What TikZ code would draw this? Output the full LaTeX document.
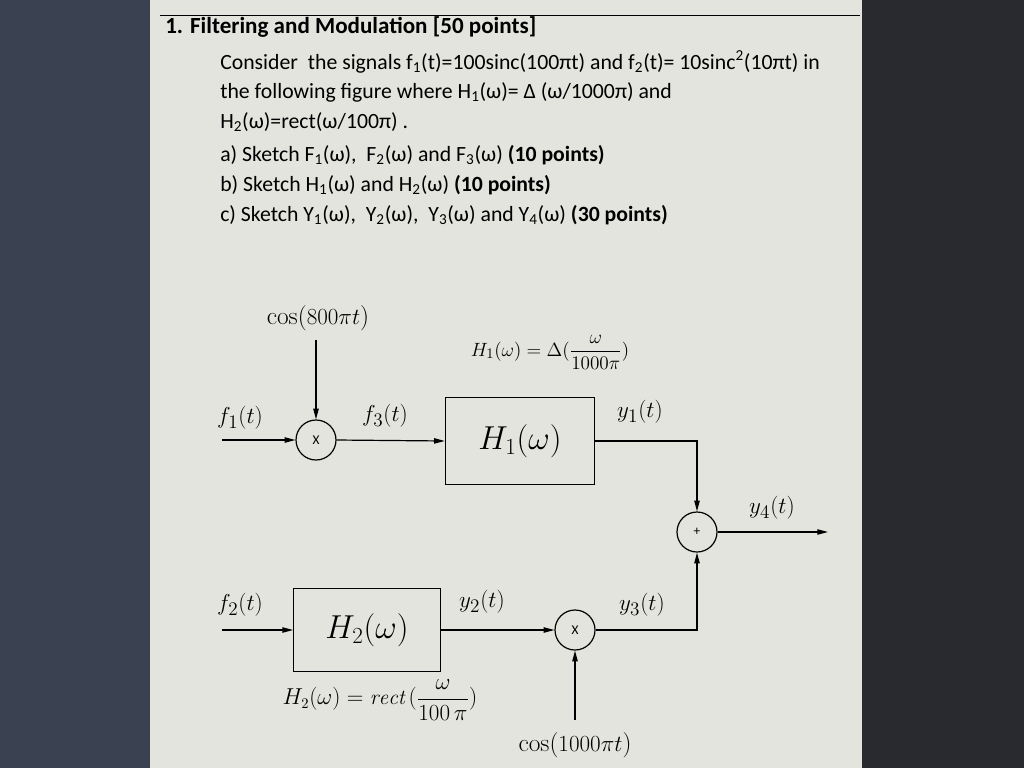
\documentclass[tikz,border=0pt]{standalone}
\usepackage{fontspec}
\setsansfont{Carlito}
\usepackage{amsmath}
\usetikzlibrary{arrows.meta}
\begin{document}
\begin{tikzpicture}[x=0.75pt,y=-0.75pt,
  txt/.style={font=\sffamily\fontsize{16.3}{18}\selectfont,anchor=west,inner sep=0},
  lab/.style={font=\fontsize{19}{21}\selectfont,inner sep=0},
  sig/.style={draw,line width=0.9pt},
  arr/.style={sig,-{Triangle[length=8pt,width=4pt]}},
  mult/.style={draw,line width=0.9pt,circle,minimum size=30pt,inner sep=0,font=\sffamily},
  blk/.style={draw,line width=0.9pt,font=\fontsize{26}{28}\selectfont}]
\useasboundingbox (0,0) rectangle (1024,768);
\fill[color={rgb,255:red,58;green,66;blue,82}] (0,0) rectangle (1024,768);
\fill[color={rgb,255:red,40;green,42;blue,48}] (860,0) rectangle (1024,768);
\fill[color={rgb,255:red,228;green,228;blue,222}] (150,0) rectangle (862,768);
\draw[line width=0.6pt] (160,15) -- (860,15);
\node[txt,font=\sffamily\bfseries\fontsize{17.3}{19}\selectfont] (t0) at (165,27) {1. Filtering and Modulation [50 points]};
\node[txt] (t1) at (220,62) {Consider \ the signals f\textsubscript{1}(t)=100sinc(100πt) and f\textsubscript{2}(t)= 10sinc\textsuperscript{2}(10πt) in};
\node[txt] (t2) at (220,92) {the following figure where H\textsubscript{1}(ω)= Δ (ω/1000π) and};
\node[txt] (t3) at (220,122) {H\textsubscript{2}(ω)=rect(ω/100π) .};
\node[txt] (t4) at (220,155) {a) Sketch F\textsubscript{1}(ω), \ F\textsubscript{2}(ω) and F\textsubscript{3}(ω) \textbf{(10 points)}};
\node[txt] (t5) at (220,185) {b) Sketch H\textsubscript{1}(ω) and H\textsubscript{2}(ω) \textbf{(10 points)}};
\node[txt] (t6) at (220,215) {c) Sketch Y\textsubscript{1}(ω), \ Y\textsubscript{2}(ω), \ Y\textsubscript{3}(ω) and Y\textsubscript{4}(ω) \textbf{(30 points)}};
% diagram
\node[lab] (c1) at (318,318) {cos($800\pi t$)};
\node[mult] (m1) at (316,440) {X};
\coordinate (c1s) at (316,340);
\coordinate (f1s) at (222,440);
\node[lab] (f1) at (240,418) {$f_1(t)$};
\node[lab] (f3) at (385,416) {$f_3(t)$};
\node[blk,minimum width=112pt,minimum height=65pt] (h1) at (520,441) {$H_1(\omega)$};
\node[lab,font=\fontsize{15}{17}\selectfont] (h1l) at (550,352) {$H_1(\omega)=\Delta(\dfrac{\omega}{1000\pi})$};
\node[lab] (y1) at (640,412) {$y_1(t)$};
\node[mult] (pl) at (697,532) {+};
\coordinate (out) at (828,532);
\node[lab] (y4) at (772,508) {$y_4(t)$};
\coordinate (f2s) at (222,630);
\node[lab] (f2) at (240,605) {$f_2(t)$};
\node[blk,minimum width=110pt,minimum height=62pt] (h2) at (367,630) {$H_2(\omega)$};
\node[lab] (y2) at (482,602) {$y_2(t)$};
\node[mult] (m2) at (575,630) {X};
\node[lab] (y3) at (642,605) {$y_3(t)$};
\node[lab] (c2) at (575,745) {cos($1000\pi t$)};
\coordinate (c2s) at (575,720);
\node[lab,font=\fontsize{16}{18}\selectfont] (h2l) at (380,700) {$H_2(\omega)=\mathit{rect}\,(\dfrac{\omega}{100\,\pi})$};
\draw[arr] (c1s) -- (m1.north);
\draw[arr] (f1s) -- (m1.west);
\draw[arr] (m1.east) -- (h1.west);
\draw[arr] (h1.east) -| (pl.north);
\draw[arr] (pl.east) -- (out);
\draw[arr] (f2s) -- (h2.west);
\draw[arr] (h2.east) -- (m2.west);
\draw[arr] (m2.east) -| (pl.south);
\draw[arr] (c2s) -- (m2.south);
\end{tikzpicture}
\end{document}
